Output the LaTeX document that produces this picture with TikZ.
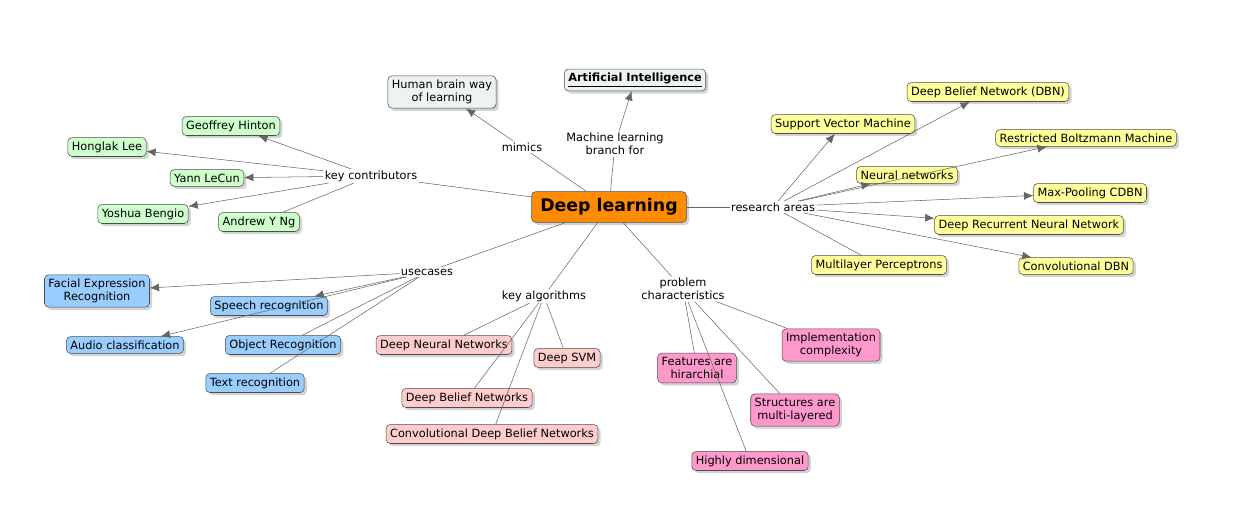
\documentclass[tikz,border=0pt]{standalone}
\usepackage{fontspec}
\setmainfont{DejaVu Sans}
\usetikzlibrary{shadows,arrows.meta}
\definecolor{dlorange}{rgb}{1.0,0.55,0.0}
\definecolor{dlyellow}{rgb}{1.0,1.0,0.6}
\definecolor{dlgreen}{rgb}{0.8,1.0,0.8}
\definecolor{dlblue}{rgb}{0.6,0.8,1.0}
\definecolor{dlpink}{rgb}{1.0,0.8,0.8}
\definecolor{dlmag}{rgb}{1.0,0.6,0.8}
\definecolor{dlgray}{rgb}{0.93,0.95,0.95}
\tikzset{
  topic/.style={draw=black!70,rounded corners=3pt,align=center,inner sep=3pt,
    font=\fontsize{8.5}{10}\selectfont,drop shadow={opacity=0.35,shadow xshift=2pt,shadow yshift=-2pt}},
  lbl/.style={font=\fontsize{8.5}{10}\selectfont,align=center,inner sep=1pt,fill=white},
  link/.style={draw=black!60},
  arr/.style={link,-{Latex[length=7pt,width=6pt]}}
}
\begin{document}
\begin{tikzpicture}[x=0.75pt,y=-0.75pt]
  \useasboundingbox (0,0) rectangle (1248,512);

  \node[topic,fill=dlorange,font=\fontsize{13}{15}\bfseries,minimum width=116pt,minimum height=23pt] (dl) at (609,207) {Deep learning};

  \node[topic,fill=dlgray] (brain) at (442,92) {Human brain way\\of learning};
  \node[topic,fill=dlgray,font=\fontsize{8.5}{10}\bfseries] (ai) at (635,80) {\underline{Artificial Intelligence}};

  \node[topic,fill=dlgreen] (hinton) at (231,126) {Geoffrey Hinton};
  \node[topic,fill=dlgreen] (lee) at (107,147) {Honglak Lee};
  \node[topic,fill=dlgreen] (lecun) at (207,178) {Yann LeCun};
  \node[topic,fill=dlgreen] (bengio) at (143,214) {Yoshua Bengio};
  \node[topic,fill=dlgreen] (ng) at (259,222) {Andrew Y Ng};

  \node[topic,fill=dlyellow] (dbn) at (988,92) {Deep Belief Network (DBN)};
  \node[topic,fill=dlyellow] (svm) at (843,124) {Support Vector Machine};
  \node[topic,fill=dlyellow] (rbm) at (1086,138) {Restricted Boltzmann Machine};
  \node[topic,fill=dlyellow] (nn) at (907,175) {Neural networks};
  \node[topic,fill=dlyellow] (mpc) at (1090,193) {Max-Pooling CDBN};
  \node[topic,fill=dlyellow] (drnn) at (1029,225) {Deep Recurrent Neural Network};
  \node[topic,fill=dlyellow] (mlp) at (879,265) {Multilayer Perceptrons};
  \node[topic,fill=dlyellow] (cdbn) at (1076,266) {Convolutional DBN};

  \node[topic,fill=dlblue] (face) at (97,291) {Facial Expression\\Recognition};
  \node[topic,fill=dlblue] (speech) at (269,306) {Speech recognition};
  \node[topic,fill=dlblue] (audio) at (125,345) {Audio classification};
  \node[topic,fill=dlblue] (object) at (283,345) {Object Recognition};
  \node[topic,fill=dlblue] (text) at (255,383) {Text recognition};

  \node[topic,fill=dlpink] (dnn) at (444,345) {Deep Neural Networks};
  \node[topic,fill=dlpink] (dsvm) at (567,358) {Deep SVM};
  \node[topic,fill=dlpink] (dbns) at (467,398) {Deep Belief Networks};
  \node[topic,fill=dlpink] (cdbns) at (492,434) {Convolutional Deep Belief Networks};

  \node[topic,fill=dlmag] (feat) at (697,368) {Features are\\hirarchial};
  \node[topic,fill=dlmag] (impl) at (831,345) {Implementation\\complexity};
  \node[topic,fill=dlmag] (struct) at (795,410) {Structures are\\multi-layered};
  \node[topic,fill=dlmag] (high) at (750,461) {Highly dimensional};

  % connector labels
  \node[lbl] (mimics) at (522,147) {mimics};
  \node[lbl] (branch) at (615,144) {Machine learning\\branch for};
  \node[lbl] (contrib) at (371,176) {key contributors};
  \node[lbl] (areas) at (773,207) {research areas};
  \node[lbl] (uses) at (427,272) {usecases};
  \node[lbl] (algos) at (544,296) {key algorithms};
  \node[lbl] (probs) at (683,289) {problem\\characteristics};

  \begin{scope}[on background layer/.try]
  \foreach \to in {mimics,branch,contrib,areas,uses,algos,probs}
    \draw[link] (dl) -- (\to);
  \end{scope}
  \draw[arr] (mimics) -- (brain);
  \draw[arr] (branch) -- (ai);
  \foreach \to in {hinton,lee,lecun,bengio}
    \draw[arr] (contrib) -- (\to);
  \draw[link] (contrib) -- (ng);
  \foreach \to in {dbn,svm,rbm,nn,mpc,drnn,cdbn}
    \draw[arr] (areas) -- (\to);
  \draw[link] (areas) -- (mlp);
  \foreach \to in {face,speech,audio}
    \draw[arr] (uses) -- (\to);
  \foreach \to in {object,text}
    \draw[link] (uses) -- (\to);
  \foreach \to in {dnn,dsvm,dbns,cdbns}
    \draw[link] (algos) -- (\to);
  \foreach \to in {feat,impl,struct,high}
    \draw[link] (probs) -- (\to);
\end{tikzpicture}
\end{document}
